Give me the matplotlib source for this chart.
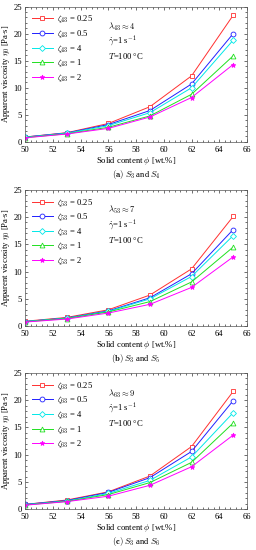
import matplotlib
matplotlib.use('Agg')
import matplotlib.pyplot as plt
from matplotlib.ticker import MultipleLocator

plt.rcParams['font.family'] = 'serif'
plt.rcParams['font.serif'] = ['Liberation Serif', 'DejaVu Serif']
plt.rcParams['mathtext.fontset'] = 'cm'

solid_content = [50, 53, 56, 59, 62, 65]
zeta_labels = ['0.25', '0.5', '4', '1', '2']

visc_a = [
    [0.9, 1.7, 3.4, 6.5, 12.2, 23.4],
    [0.9, 1.65, 3.2, 5.8, 10.7, 20.0],
    [0.85, 1.6, 3.0, 5.4, 10.0, 18.8],
    [0.8, 1.5, 2.7, 4.8, 8.8, 15.9],
    [0.75, 1.45, 2.5, 4.6, 8.2, 14.3],
]
visc_b = [
    [0.9, 1.6, 3.0, 5.7, 10.5, 20.1],
    [0.85, 1.5, 2.8, 5.2, 9.6, 17.7],
    [0.85, 1.45, 2.7, 5.0, 9.1, 16.6],
    [0.8, 1.4, 2.6, 4.5, 8.1, 14.5],
    [0.75, 1.3, 2.4, 4.0, 7.1, 12.7],
]
visc_c = [
    [0.9, 1.7, 3.2, 6.1, 11.5, 21.6],
    [0.9, 1.6, 3.1, 5.8, 10.6, 19.9],
    [0.85, 1.5, 2.9, 5.3, 9.6, 17.7],
    [0.8, 1.45, 2.7, 4.9, 8.6, 15.8],
    [0.75, 1.4, 2.4, 4.4, 7.8, 13.6],
]

panels = [
    ('43', '4', visc_a, '(a)', '4'),
    ('53', '7', visc_b, '(b)', '5'),
    ('63', '9', visc_c, '(c)', '6'),
]

colors = ['#ff3030', '#2020ff', '#00e8e8', '#20e020', '#ff00ff']
markers = ['s', 'o', 'D', '^', '*']
msizes = [3.0, 3.5, 3.0, 3.5, 3.5]

# axes rectangles: left, bottom, width, height (figure fraction)
rects = [
    [0.098, 0.742, 0.867, 0.246],
    [0.098, 0.407, 0.867, 0.248],
    [0.098, 0.074, 0.867, 0.248],
]

fig = plt.figure(figsize=(2.56, 5.5), dpi=100)
fs = 6.2

for (sub, lam, data, tag, s2), rect in zip(panels, rects):
    ax = fig.add_axes(rect)
    for i, vals in enumerate(data):
        filled = markers[i] == '*'
        ax.plot(solid_content, vals, color=colors[i], marker=markers[i],
                ms=msizes[i], lw=0.7, mew=0.6,
                mfc=colors[i] if filled else 'white',
                label=r'$\zeta_{%s}$ = %s' % (sub, zeta_labels[i]))
    ax.set_xlim(50, 66)
    ax.set_ylim(0, 25)
    ax.xaxis.set_major_locator(MultipleLocator(2))
    ax.xaxis.set_minor_locator(MultipleLocator(0.4))
    ax.yaxis.set_major_locator(MultipleLocator(5))
    ax.yaxis.set_minor_locator(MultipleLocator(1))
    ax.tick_params(which='both', direction='in', top=True, right=True,
                   labelsize=fs, width=0.4, pad=2)
    ax.tick_params(axis='x', pad=3)
    ax.tick_params(which='major', length=2.5)
    ax.tick_params(which='minor', length=1.3)
    for sp in ax.spines.values():
        sp.set_linewidth(0.5)
        sp.set_color('#555555')
    ax.set_xlabel(r'Solid content $\phi$ [wt.%]', fontsize=fs, labelpad=0.5)
    ax.set_ylabel(r'Apparent viscosity $\eta_0$ [Pa$\cdot$s]', fontsize=fs, labelpad=1)
    ax.legend(loc='upper left', frameon=False, fontsize=fs, handlelength=2.4,
              labelspacing=0.3, borderaxespad=0.4, handletextpad=0.5)
    ax.text(0.375, 0.85, r'$\lambda_{%s} \approx %s$' % (sub, lam),
            transform=ax.transAxes, fontsize=fs, va='center')
    ax.text(0.375, 0.745, r'$\dot{\gamma}$=1 s$^{-1}$',
            transform=ax.transAxes, fontsize=fs, va='center')
    ax.text(0.375, 0.635, r'$T$=100 °C',
            transform=ax.transAxes, fontsize=fs, va='center')
    cap_y = rect[1] - 0.059
    fig.text(rect[0] + rect[2] / 2, cap_y,
             r'$\mathbf{%s}$ $S_3$ and $S_%s$' % (tag, s2),
             ha='center', va='center', fontsize=fs)

fig.savefig('out.png', dpi=100)
